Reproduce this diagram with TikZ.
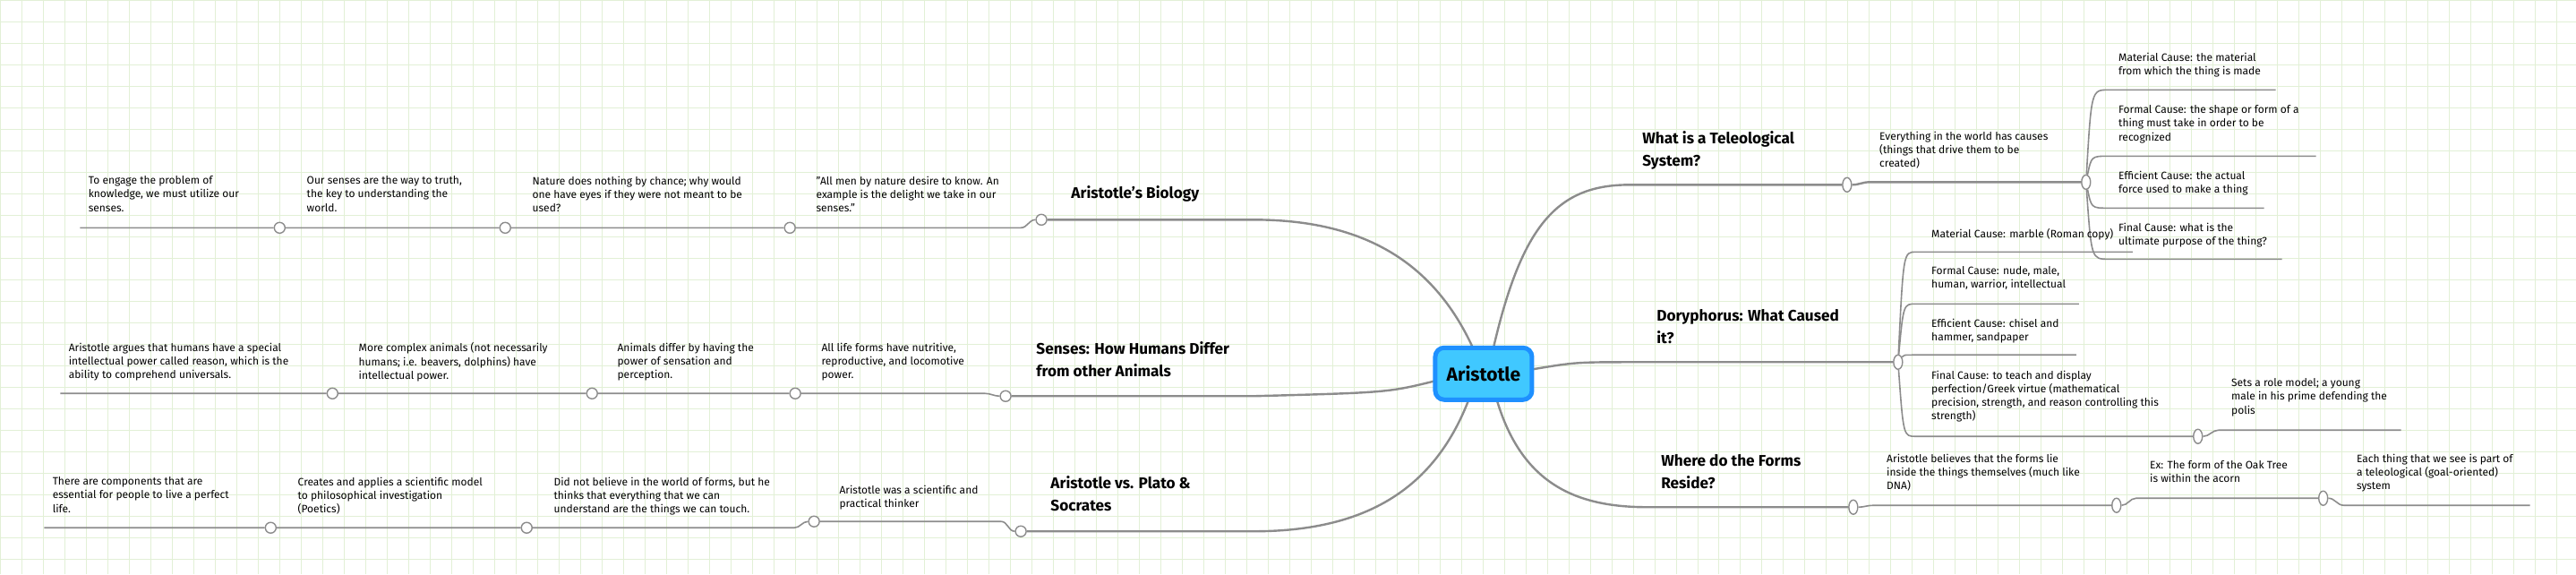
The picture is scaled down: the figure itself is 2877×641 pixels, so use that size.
\documentclass[tikz,border=0pt]{standalone}
\usepackage{fontspec}
\setmainfont{Fira Sans}
\usetikzlibrary{shapes.geometric}
\definecolor{cfill}{RGB}{64,200,255}
\definecolor{cbord}{RGB}{30,144,255}
\definecolor{gridc}{RGB}{226,240,214}
\begin{document}
\begin{tikzpicture}[x=0.5pt,y=-0.5pt,
  txt/.style={anchor=north west,inner sep=0pt,align=left,font=\fontsize{6}{7.6}\selectfont},
  ttl/.style={anchor=north west,inner sep=0pt,align=left,font=\fontsize{8.6}{12.6}\selectfont\bfseries},
  ln/.style={draw=black!45,line width=1.2pt},
  sl/.style={draw=black!45,line width=0.8pt},
  dot/.style={circle,draw=black!45,fill=white,line width=0.7pt,minimum size=6pt,inner sep=0pt},
  hub/.style={draw=black!45,fill=white,line width=0.7pt,ellipse,minimum width=5pt,minimum height=8pt,inner sep=0pt},
  central/.style={draw=cbord,fill=cfill,line width=2.5pt,rounded corners=5pt,minimum width=54pt,minimum height=29pt,font=\fontsize{10.5}{12}\selectfont\bfseries}]
\fill[white] (0,0) rectangle (2877,641);
\draw[gridc,line width=0.4pt] (0,0) grid[step=12pt] (2877,641);
\useasboundingbox (0,0) rectangle (2877,641);
\coordinate (c) at (1657,417);
% ---------- right: teleological
\node[ttl] (tt) at (1834,146) {What is a Teleological\\System?};
\node[hub] (t1) at (2063,206) {};
\node[hub] (t2) at (2330,203) {};
\coordinate (t0) at (1820,206);
\draw[ln] (1668,388) .. controls (1700,250) and (1740,206) .. (t0) -- (t1);
\draw[ln] (t1) to[out=0,in=180] (2088,203) -- (t2);
\node[txt] at (2099,146) {Everything in the world has causes\\(things that drive them to be\\created)};
\foreach \y/\e in {100/2542,174/2587,232/2529,289/2549}{
  \draw[sl] (t2) .. controls (2336,\y) .. (2355,\y) -- (\e,\y);}
\node[txt] at (2366,58) {Material Cause: the material\\from which the thing is made};
\node[txt] at (2366,117) {Formal Cause: the shape or form of a\\thing must take in order to be\\recognized};
\node[txt] at (2366,190) {Efficient Cause: the actual\\force used to make a thing};
\node[txt] at (2366,248) {Final Cause: what is the\\ultimate purpose of the thing?};
% ---------- Doryphorus
\node[ttl] at (1850,345) {Doryphorus: What Caused\\it?};
\node[hub] (d1) at (2120,404) {};
\draw[ln] (1712,412) .. controls (1760,404) .. (1830,404) -- (d1);
\foreach \y/\e in {281/2382,339/2322,396/2319}{
  \draw[sl] (d1) .. controls (2126,\y) .. (2140,\y) -- (\e,\y);}
\node[hub] (d2) at (2455,487) {};
\draw[sl] (d1) .. controls (2126,487) .. (2140,487) -- (d2);
\draw[sl] (d2) to[out=0,in=180] (2478,480) -- (2682,480);
\node[txt] at (2157,255) {Material Cause: marble (Roman copy)};
\node[txt] at (2157,297) {Formal Cause: nude, male,\\human, warrior, intellectual};
\node[txt] at (2157,355) {Efficient Cause: chisel and\\hammer, sandpaper};
\node[txt] at (2157,413) {Final Cause: to teach and display\\perfection/Greek virtue (mathematical\\precision, strength, and reason controlling this\\strength)};
\node[txt] at (2492,422) {Sets a role model; a young\\male in his prime defending the\\polis};
% ---------- Where
\node[ttl] at (1855,507) {Where do the Forms\\Reside?};
\node[hub] (w1) at (2070,566) {};
\node[hub] (w2) at (2364,564) {};
\node[hub] (w3) at (2595,556) {};
\draw[ln] (1672,447) .. controls (1700,540) and (1760,566) .. (1840,566) -- (w1);
\draw[sl] (w1) to[out=0,in=180] (2092,564) -- (w2);
\draw[sl] (w2) to[out=0,in=180] (2386,556) -- (w3);
\draw[sl] (w3) to[out=0,in=180] (2618,564) -- (2826,564);
\node[txt] at (2107,506) {Aristotle believes that the forms lie\\inside the things themselves (much like\\DNA)};
\node[txt] at (2401,514) {Ex: The form of the Oak Tree\\is within the acorn};
\node[txt] at (2632,506) {Each thing that we see is part of\\a teleological (goal-oriented)\\system};
% ---------- left: Biology
\node[ttl] at (1196,207) {Aristotle's Biology};
\node[dot] (b0) at (1163,245) {};
\node[dot] (b1) at (882,254) {};
\node[dot] (b2) at (564,254) {};
\node[dot] (b3) at (312,254) {};
\draw[ln] (1645,388) .. controls (1600,290) and (1520,245) .. (1400,245) -- (b0);
\draw[sl] (b0) to[out=180,in=0] (1140,254) -- (b1) -- (b2) -- (b3) -- (89,254);
\node[txt] at (98,196) {To engage the problem of\\knowledge, we must utilize our\\senses.};
\node[txt] at (342,196) {Our senses are the way to truth,\\the key to understanding the\\world.};
\node[txt] at (594,196) {Nature does nothing by chance; why would\\one have eyes if they were not meant to be\\used?};
\node[txt] at (911,196) {"All men by nature desire to know. An\\example is the delight we take in our\\senses."};
% ---------- Senses
\node[ttl] at (1157,381) {Senses: How Humans Differ\\from other Animals};
\node[dot] (s0) at (1123,442) {};
\node[dot] (s1) at (888,439) {};
\node[dot] (s2) at (661,439) {};
\node[dot] (s3) at (371,439) {};
\draw[ln] (1603,425) .. controls (1550,438) .. (1400,442) -- (s0);
\draw[sl] (s0) to[out=180,in=0] (1100,439) -- (s1) -- (s2) -- (s3) -- (67,439);
\node[txt] at (76,382) {Aristotle argues that humans have a special\\intellectual power called reason, which is the\\ability to comprehend universals.};
\node[txt] at (400,382) {More complex animals (not necessarily\\humans; i.e. beavers, dolphins) have\\intellectual power.};
\node[txt] at (689,382) {Animals differ by having the\\power of sensation and\\perception.};
\node[txt] at (917,382) {All life forms have nutritive,\\reproductive, and locomotive\\power.};
% ---------- Plato
\node[ttl] at (1173,531) {Aristotle vs. Plato \&\\Socrates};
\node[dot] (p0) at (1140,593) {};
\node[dot] (p1) at (909,582) {};
\node[dot] (p2) at (588,589) {};
\node[dot] (p3) at (302,589) {};
\draw[ln] (1640,447) .. controls (1600,550) and (1520,593) .. (1400,593) -- (p0);
\draw[sl] (p0) to[out=180,in=0] (1118,582) -- (p1);
\draw[sl] (p1) to[out=180,in=0] (887,589) -- (p2) -- (p3) -- (49,589);
\node[txt] at (937,541) {Aristotle was a scientific and\\practical thinker};
\node[txt] at (58,532) {There are components that are\\essential for people to live a perfect\\life.};
\node[txt] at (332,532) {Creates and applies a scientific model\\to philosophical investigation\\(Poetics)};
\node[txt] at (618,532) {Did not believe in the world of forms, but he\\thinks that everything that we can\\understand are the things we can touch.};
\node[central] (cn) at (c) {Aristotle};
\end{tikzpicture}
\end{document}
